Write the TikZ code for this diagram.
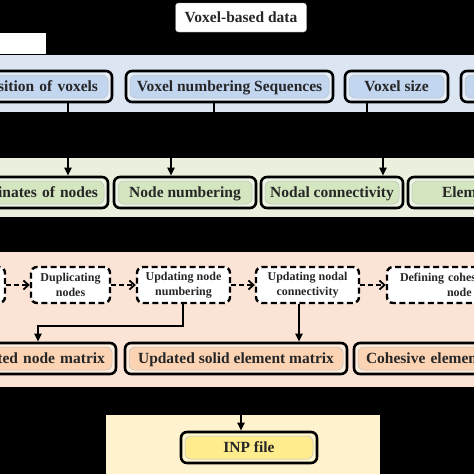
\documentclass[tikz,border=0pt]{standalone}
\usepackage{fontspec}
\setmainfont{Liberation Serif}
\usetikzlibrary{arrows.meta, positioning, calc}
\definecolor{vxblue}{RGB}{220,230,243}
\definecolor{vxbluebox}{RGB}{194,214,240}
\definecolor{vxgreen}{RGB}{233,241,222}
\definecolor{vxgreenbox}{RGB}{212,230,192}
\definecolor{vxpeach}{RGB}{251,228,214}
\definecolor{vxpeachbox}{RGB}{252,212,180}
\definecolor{vxyellow}{RGB}{255,242,206}
\definecolor{vxyellowbox}{RGB}{255,236,140}

\begin{document}
\begin{tikzpicture}[x=1pt, y=-1pt,
  panel/.style={draw=black, line width=2.6pt, rounded corners=6pt, inner sep=0pt,
    minimum height=31pt, text height=10.5pt, text depth=0.5pt, text=black!85,
    font=\fontsize{15.5}{18}\selectfont\bfseries},
  bevel/.style={fill=#1!45!white, path picture={
    \fill[#1, draw=black!25, line width=0.5pt]
      ($(path picture bounding box.south west)+(4pt,4pt)$) rectangle
      ($(path picture bounding box.north east)+(-4pt,-4pt)$);}},
  dbox/.style={draw=black, line width=2.4pt, dash pattern=on 6pt off 3.5pt,
    rounded corners=6pt, fill=white, inner sep=0pt, minimum height=36pt,
    align=center, text=black!85, font=\fontsize{12}{14.5}\selectfont\bfseries},
  arr/.style={line width=1.8pt, -{Triangle[length=8pt, width=7pt]}},
  darr/.style={line width=1.8pt, dash pattern=on 5pt off 3pt,
    -{Straight Barb[length=5pt, width=9pt, line width=1.8pt]}}
]
\useasboundingbox (0,0) rectangle (474,474);
\clip (0,0) rectangle (474,474);
\fill[black] (0,0) rectangle (474,474);

% title
\node[draw=black!40, fill=white, rounded corners=3pt, minimum width=131pt,
  minimum height=29pt, inner sep=0pt, text height=10.5pt, text depth=0.5pt,
  font=\fontsize{15.5}{18}\selectfont\bfseries, text=black!85] (vdata) at (241,17.5)
  {Voxel-based data};
\fill[white] (0,33) rectangle (46,54);

% ---- voxel data band ----
\fill[vxblue] (0,55) rectangle (474,112);
\node[panel, bevel=vxbluebox, minimum width=142pt, text width=114pt, align=right]
  (vpos) at (41,86.5) {sition of voxels};
\node[panel, bevel=vxbluebox, minimum width=207pt] (vnum) at (229.5,86.5)
  {Voxel numbering Sequences};
\node[panel, bevel=vxbluebox, minimum width=103pt] (vsize) at (396.5,86.5) {Voxel size};
\node[panel, bevel=vxbluebox, minimum width=100pt] (vmore) at (511,86.5) {};

% ---- mesh data band ----
\fill[vxgreen] (0,158) rectangle (474,217);
\node[panel, bevel=vxgreenbox, minimum width=148pt, text width=128pt, align=right]
  (mcoord) at (34,192.5) {inates of nodes};
\node[panel, bevel=vxgreenbox, minimum width=142pt] (mnum) at (185,192.5) {Node numbering};
\node[panel, bevel=vxgreenbox, minimum width=142pt] (mconn) at (332,192.5)
  {Nodal connectivity};
\node[panel, bevel=vxgreenbox, minimum width=132pt, text width=64pt, align=left]
  (melem) at (474,192.5) {Elem};

% taps between the bands
\coordinate (tapP) at (68,102);   \coordinate (dropP) at (68,177);
\coordinate (tapN) at (214,102);  \coordinate (dropN) at (171,177);
\coordinate (tapS) at (367,102);  \coordinate (dropS) at (383,177);
\draw[arr] (vpos.south -| tapP) -- (mcoord.north -| dropP);
\draw[arr] (vnum.south -| tapN) -- ++(0,33) -| (mnum.north -| dropN);
\draw[arr] (vsize.south -| tapS) -- ++(0,33) -| (mconn.north -| dropS);

% ---- cohesive insertion band ----
\fill[vxpeach] (0,252) rectangle (474,387);
\node[dbox, minimum width=65pt] (cprev) at (-27.5,285) {};
\node[dbox, minimum width=79pt] (cdup) at (70.5,285) {Duplicating\\nodes};
\node[dbox, minimum width=93pt] (cnum) at (183.5,285) {Updating node\\numbering};
\node[dbox, minimum width=103pt] (cconn) at (307.5,285) {Updating nodal\\connectivity};
\node[dbox, minimum width=153pt, text width=127pt, align=left] (cdef) at (463.5,285)
  {Defining cohes\\\hspace*{47pt}node};

\foreach \a/\b in {cprev/cdup, cdup/cnum, cnum/cconn, cconn/cdef}{
  \draw[darr] (\a.east) -- (\b.west);
}

\node[panel, bevel=vxpeachbox, minimum width=156pt, text width=134pt, align=right]
  (pnode) at (38,358.5) {ted node matrix};
\node[panel, bevel=vxpeachbox, minimum width=222pt] (psolid) at (236,358.5)
  {Updated solid element matrix};
\node[panel, bevel=vxpeachbox, minimum width=186pt, text width=162pt, align=left]
  (pcoh) at (447,358.5) {Cohesive elemen};

\coordinate (tapU) at (183,303);  \coordinate (dropU) at (38,343);
\coordinate (tapC) at (299,303);
\draw[arr] (cnum.south -| tapU) -- ++(0,22) -| (pnode.north -| dropU);
\draw[arr] (cconn.south -| tapC) -- (psolid.north -| tapC);

% ---- output ----
\fill[vxyellow] (106,415) rectangle (380,480);
\node[panel, bevel=vxyellowbox, minimum width=136pt] (inp) at (249,447.5) {INP file};
\coordinate (inpfeed) at (241,400);
\draw[arr] (inpfeed) -- (inp.north -| inpfeed);
\end{tikzpicture}
\end{document}
